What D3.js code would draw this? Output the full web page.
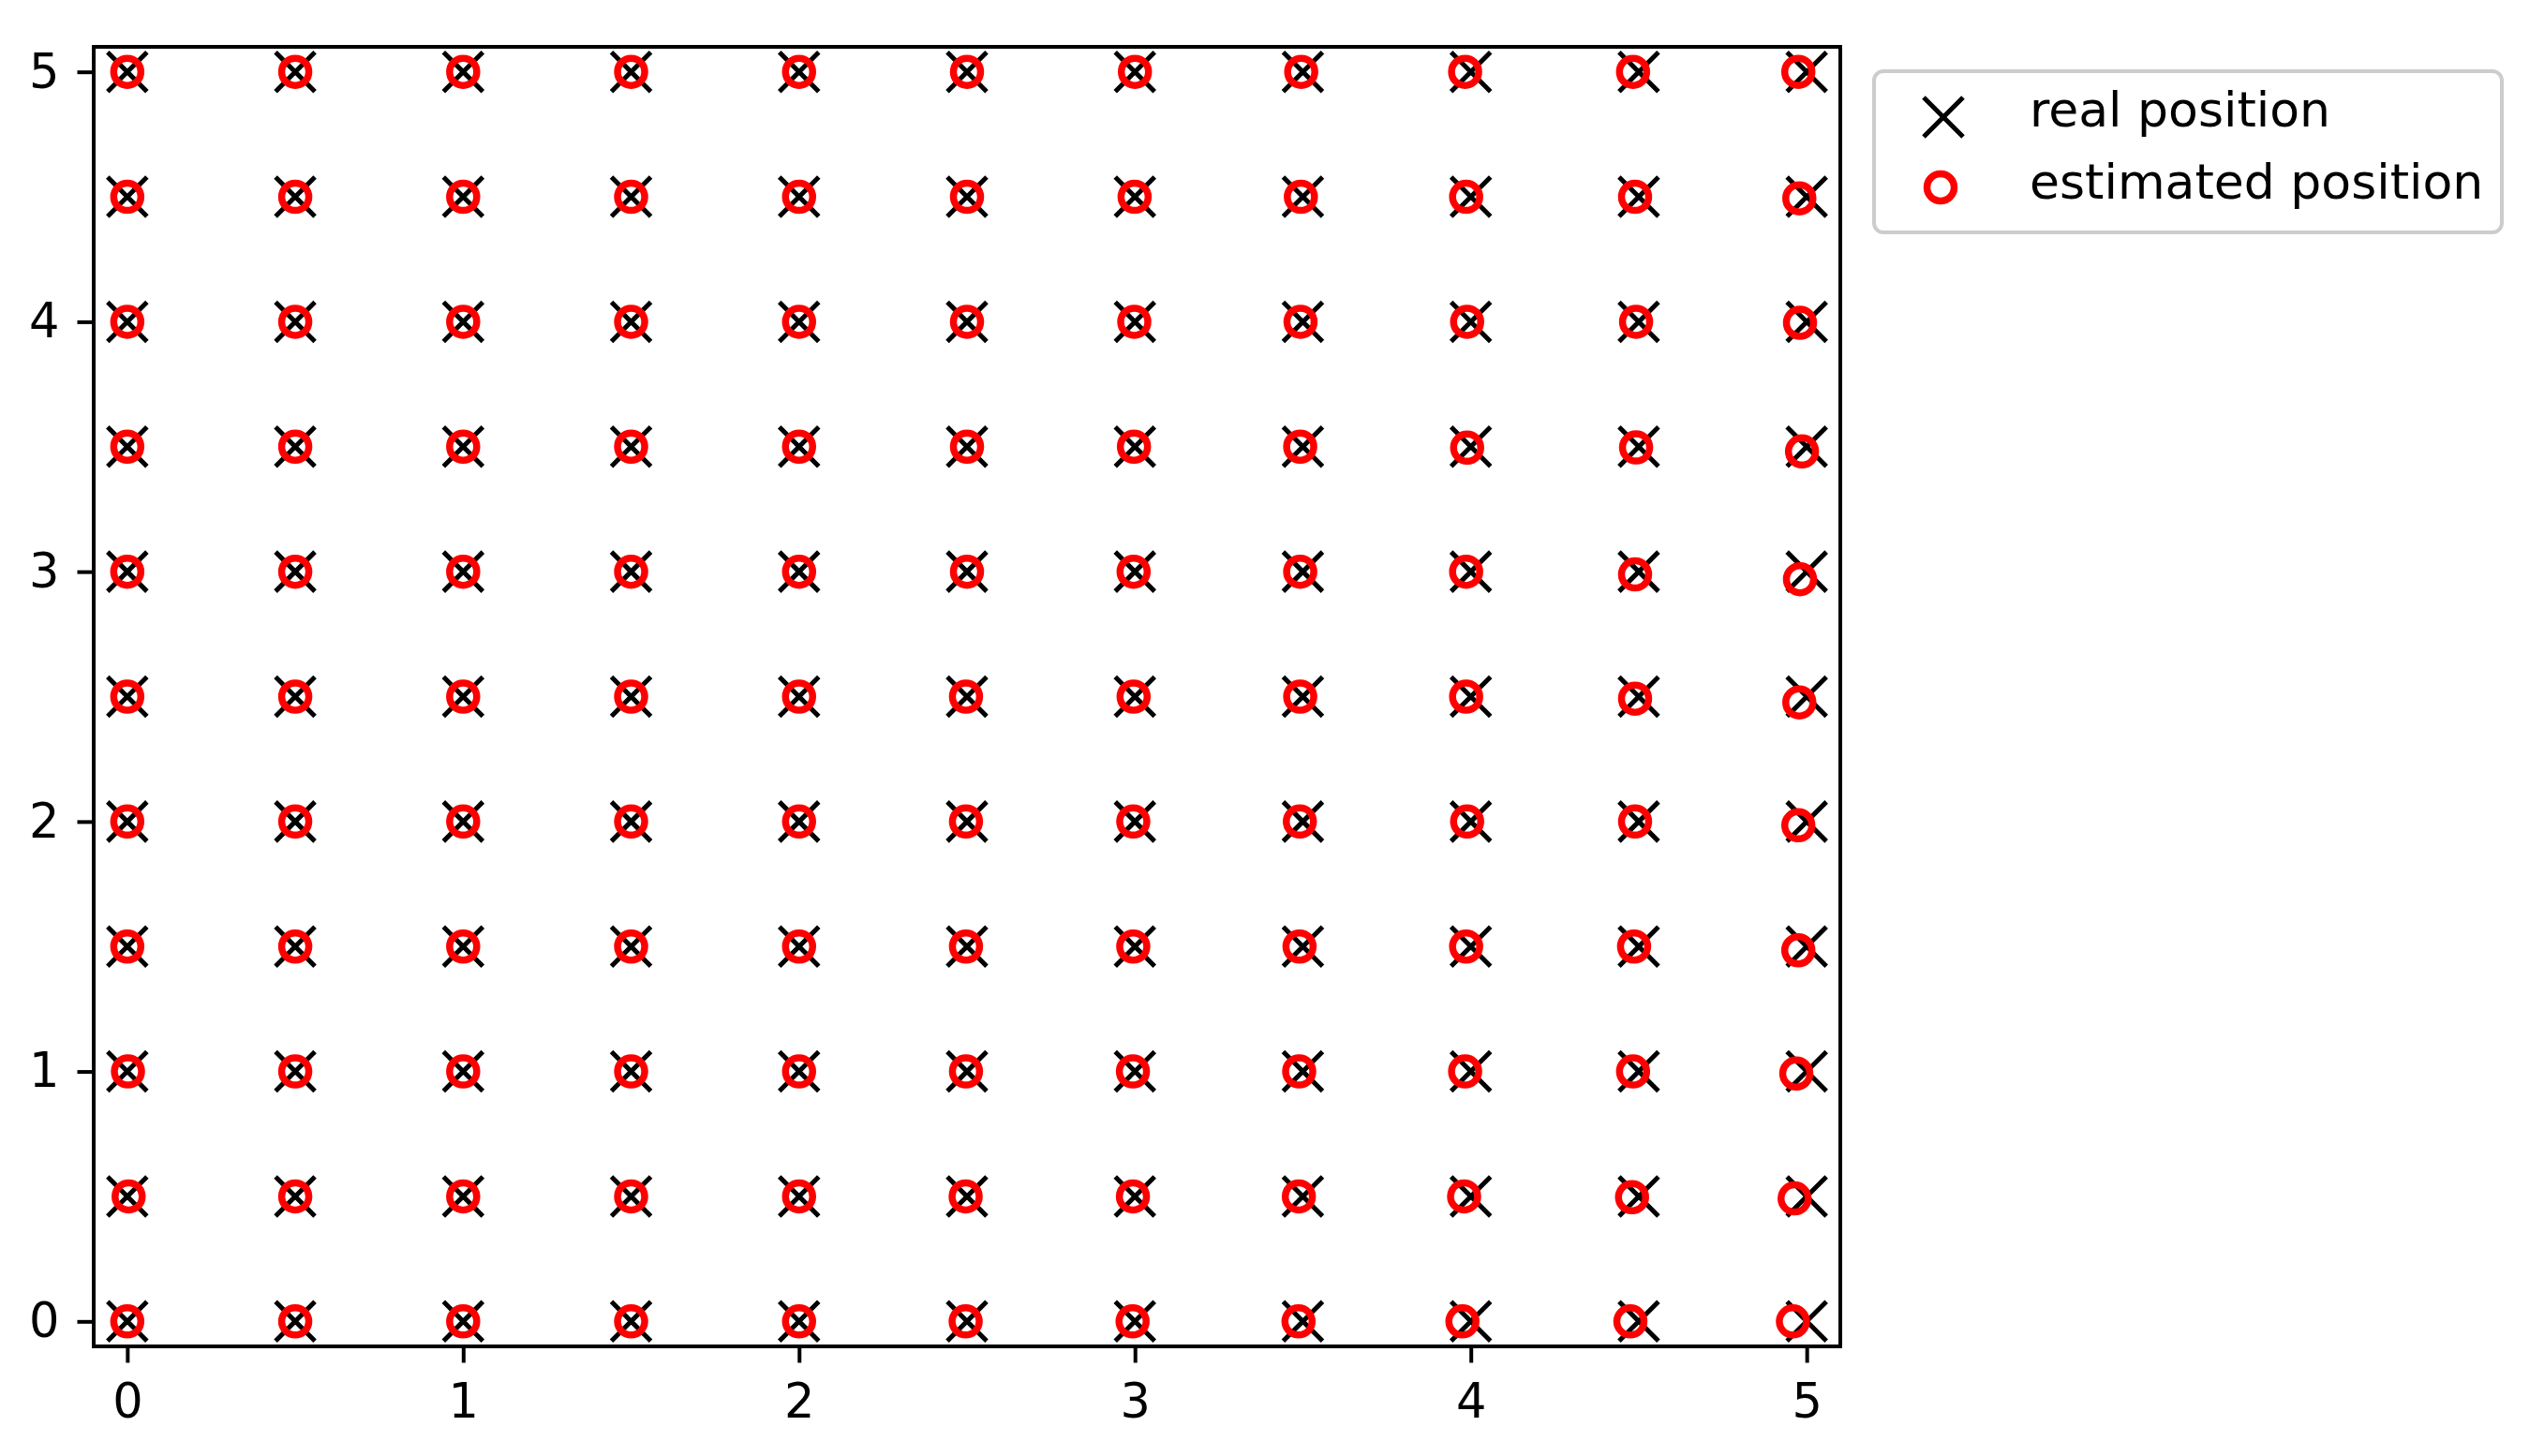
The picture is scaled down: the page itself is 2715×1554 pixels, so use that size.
<!DOCTYPE html>
<html>
<head>
<meta charset="utf-8">
<script src="https://cdn.jsdelivr.net/npm/d3@7"></script>
<style>
  html, body { margin: 0; padding: 0; background: #ffffff; }
  svg { display: block; }
</style>
</head>
<body>
<svg id="chart" width="2715" height="1554"></svg>
<script>
// ---------- data ----------
const xTicks = [0, 1, 2, 3, 4, 5];
const yTicks = [0, 1, 2, 3, 4, 5];

// real grid positions (columns and rows)
const gridX = [0, 0.5, 1, 1.5, 2, 2.5, 3, 3.5, 4, 4.5, 5];
const gridY = [5, 4.5, 4, 3.5, 3, 2.5, 2, 1.5, 1, 0.5, 0];

// estimated positions, one row per gridY value (top row first)
const estX = [
  [0, 0.5, 1, 1.5, 2, 2.5, 3.000, 3.495, 3.983, 4.483, 4.975],
  [0, 0.5, 1, 1.5, 2, 2.5, 2.999, 3.494, 3.986, 4.489, 4.978],
  [0, 0.5, 1, 1.5, 2, 2.5, 2.998, 3.493, 3.989, 4.492, 4.980],
  [0, 0.5, 1, 1.5, 2, 2.5, 2.997, 3.492, 3.989, 4.492, 4.986],
  [0, 0.5, 1, 1.5, 2, 2.5, 2.996, 3.492, 3.986, 4.489, 4.980],
  [0, 0.5, 1, 1.5, 2, 2.497, 2.996, 3.492, 3.986, 4.489, 4.978],
  [0, 0.5, 1, 1.5, 2, 2.497, 2.995, 3.491, 3.989, 4.489, 4.975],
  [0, 0.5, 1, 1.5, 2, 2.497, 2.995, 3.490, 3.986, 4.486, 4.975],
  [0.002, 0.5, 1, 1.5, 2, 2.497, 2.994, 3.489, 3.983, 4.483, 4.969],
  [0.004, 0.5, 1, 1.5, 2, 2.496, 2.994, 3.488, 3.980, 4.480, 4.964],
  [0, 0.5, 1, 1.5, 2, 2.496, 2.993, 3.487, 3.975, 4.475, 4.959]
];
const estY = [
  [5, 5, 5, 5, 5, 5, 5, 5, 5, 5, 5],
  [4.5, 4.5, 4.5, 4.5, 4.5, 4.5, 4.5, 4.5, 4.5, 4.5, 4.494],
  [4, 4, 4, 4, 4, 4, 4, 4, 4, 4, 3.996],
  [3.5, 3.5, 3.5, 3.5, 3.5, 3.5, 3.5, 3.5, 3.496, 3.497, 3.481],
  [3, 3, 3, 3, 3, 3, 3, 3, 3, 2.989, 2.970],
  [2.5, 2.5, 2.5, 2.5, 2.5, 2.5, 2.5, 2.5, 2.5, 2.492, 2.477],
  [2, 2, 2, 2, 2, 2, 2, 2, 2, 2, 1.985],
  [1.5, 1.5, 1.5, 1.5, 1.5, 1.5, 1.5, 1.5, 1.5, 1.5, 1.485],
  [1, 1, 1, 1, 1, 1, 1, 1, 1, 1, 0.992],
  [0.5, 0.5, 0.5, 0.5, 0.5, 0.5, 0.5, 0.5, 0.5, 0.497, 0.492],
  [0, 0, 0, 0, 0, 0, 0, 0, 0, 0, 0]
];
const legendLabels = ["real position", "estimated position"];

// ---------- layout ----------
const FONT = "DejaVu Sans";
const plot = { left: 100, top: 50, right: 1964, bottom: 1437 };

const svg = d3.select("#chart");
svg.append("rect").attr("width", 2715).attr("height", 1554).attr("fill", "#ffffff");

const x = d3.scaleLinear().domain([-0.1, 5.1]).range([plot.left, plot.right]);
const y = d3.scaleLinear().domain([-0.1, 5.1]).range([plot.bottom, plot.top]);

// ---------- marks ----------
const realPts = [];
gridY.forEach(gy => gridX.forEach(gx => realPts.push({ x: gx, y: gy })));
const estPts = [];
estX.forEach((row, i) => row.forEach((ex, j) => estPts.push({ x: ex, y: estY[i][j] })));

const XH = 21; // half size of the x marker
function xPath(cx, cy, h) {
  return `M${cx - h},${cy - h}L${cx + h},${cy + h}M${cx - h},${cy + h}L${cx + h},${cy - h}`;
}

const marks = svg.append("g");
marks.selectAll("path.real")
  .data(realPts)
  .join("path")
  .attr("class", "real")
  .attr("d", d => xPath(x(d.x), y(d.y), XH))
  .attr("fill", "none")
  .attr("stroke", "#000000")
  .attr("stroke-width", 5);

marks.selectAll("circle.est")
  .data(estPts)
  .join("circle")
  .attr("class", "est")
  .attr("cx", d => x(d.x))
  .attr("cy", d => y(d.y))
  .attr("r", 14.5)
  .attr("fill", "none")
  .attr("stroke", "#ff0000")
  .attr("stroke-width", 7.5);

// ---------- axes ----------
const xAxis = svg.append("g")
  .attr("transform", `translate(0,${plot.bottom})`)
  .call(d3.axisBottom(x).tickValues(xTicks).tickFormat(d3.format("d")).tickSize(17.5).tickPadding(22));
const yAxis = svg.append("g")
  .attr("transform", `translate(${plot.left},0)`)
  .call(d3.axisLeft(y).tickValues(yTicks).tickFormat(d3.format("d")).tickSize(17.5).tickPadding(19));

[xAxis, yAxis].forEach(g => {
  g.select(".domain").remove();
  g.selectAll(".tick line").attr("stroke", "#000").attr("stroke-width", 4);
  g.selectAll(".tick text")
    .attr("fill", "#000")
    .style("font-family", FONT)
    .style("font-size", "51px");
});

// frame
svg.append("rect")
  .attr("x", plot.left).attr("y", plot.top)
  .attr("width", plot.right - plot.left).attr("height", plot.bottom - plot.top)
  .attr("fill", "none").attr("stroke", "#000").attr("stroke-width", 4);

// ---------- legend ----------
const lg = svg.append("g");
lg.append("rect")
  .attr("x", 2000).attr("y", 76).attr("width", 670).attr("height", 172)
  .attr("rx", 10).attr("ry", 10)
  .attr("fill", "#ffffff").attr("fill-opacity", 0.8)
  .attr("stroke", "#cccccc").attr("stroke-width", 4);

lg.append("path")
  .attr("d", xPath(2074, 125, XH))
  .attr("fill", "none").attr("stroke", "#000").attr("stroke-width", 5);
lg.append("circle")
  .attr("cx", 2071).attr("cy", 200).attr("r", 14.5)
  .attr("fill", "none").attr("stroke", "#ff0000").attr("stroke-width", 7.5);

lg.selectAll("text")
  .data(legendLabels)
  .join("text")
  .attr("x", 2166)
  .attr("y", (d, i) => 135 + i * 77)
  .attr("fill", "#000")
  .style("font-family", FONT)
  .style("font-size", "52px")
  .text(d => d);
</script>
</body>
</html>
